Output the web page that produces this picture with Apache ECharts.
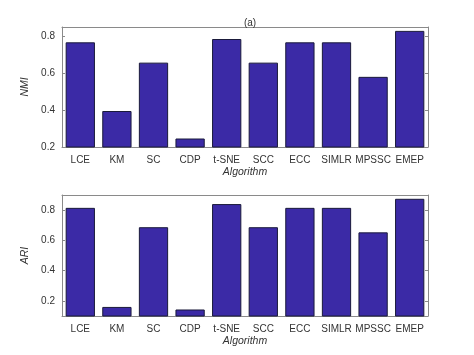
<!DOCTYPE html>
<html><head><meta charset="utf-8">
<script src="https://cdn.jsdelivr.net/npm/echarts@6/dist/echarts.min.js"></script>
<style>html,body{margin:0;padding:0;background:#fff}#c{width:474px;height:355px}</style>
</head><body><div id="c"></div>
<script>
const categories = ['LCE','KM','SC','CDP','t-SNE','SCC','ECC','SIMLR','MPSSC','EMEP'];
const nmiValues = [0.767,0.395,0.657,0.246,0.785,0.657,0.767,0.767,0.580,0.829];
const ariValues = [0.815,0.160,0.687,0.143,0.840,0.687,0.815,0.815,0.653,0.875];
const yTicks = [0.2,0.4,0.6,0.8];
const title = '(a)';

const font = 'Liberation Sans';
const axisCol = '#8a8a8a';
const txtCol = '#333';
const barCol = '#3b2aa6';

const grids = [
  {left:62, right:46, top:27, height:120},
  {left:62, right:46, top:195, height:121}
];
const ranges = [[0.2,0.85],[0.1,0.9]];
const names = ['NMI','ARI'];

const xAxes = [], yAxes = [], series = [];
[0,1].forEach(i => {
  xAxes.push({type:'category', gridIndex:i, data:categories, position:'bottom',
    axisLine:{lineStyle:{color:axisCol,width:1}},
    axisTick:{inside:true, alignWithLabel:true, length:3, lineStyle:{color:axisCol}},
    axisLabel:{color:txtCol, fontFamily:font, fontSize:10, margin:8, interval:0},
    name:'Algorithm', nameLocation:'middle', nameGap:20,
    nameTextStyle:{color:txtCol, fontFamily:font, fontSize:10.5, fontStyle:'italic'}});
  xAxes.push({type:'category', gridIndex:i, data:categories, position:'top',
    axisLine:{lineStyle:{color:axisCol,width:1}},
    axisTick:{inside:true, alignWithLabel:true, length:3, interval:0, lineStyle:{color:axisCol}},
    axisLabel:{show:false}});
  yAxes.push({type:'value', gridIndex:i, min:ranges[i][0], max:ranges[i][1], position:'left',
    splitLine:{show:false},
    axisLine:{show:true, lineStyle:{color:axisCol,width:1}},
    axisTick:{show:true, inside:true, length:3, customValues:yTicks, lineStyle:{color:axisCol}},
    axisLabel:{color:txtCol, fontFamily:font, fontSize:10, margin:7, customValues:yTicks,
      formatter: v => v.toFixed(1)},
    name:names[i], nameLocation:'middle', nameGap:22,
    nameTextStyle:{color:txtCol, fontFamily:font, fontSize:10.5, fontStyle:'italic'}});
  yAxes.push({type:'value', gridIndex:i, min:ranges[i][0], max:ranges[i][1], position:'right',
    splitLine:{show:false},
    axisLine:{show:true, lineStyle:{color:axisCol,width:1}},
    axisTick:{show:true, inside:true, length:3, customValues:yTicks, lineStyle:{color:axisCol}},
    axisLabel:{show:false}});
  series.push({type:'bar', xAxisIndex:i*2, yAxisIndex:i*2,
    data: i===0 ? nmiValues : ariValues,
    barCategoryGap:'20%',
    itemStyle:{color:barCol, borderColor:'#1a1a3a', borderWidth:1},
    silent:true});
});

const chart = echarts.init(document.getElementById('c'), null, {renderer:'canvas'});
chart.setOption({
  animation:false,
  backgroundColor:'#fff',
  title:{text:title, left:245, top:13, textAlign:'center',
    textStyle:{fontFamily:font, fontSize:10, fontWeight:'normal', color:txtCol}},
  grid:grids,
  xAxis:xAxes,
  yAxis:yAxes,
  series:series
});
</script>
</body></html>
